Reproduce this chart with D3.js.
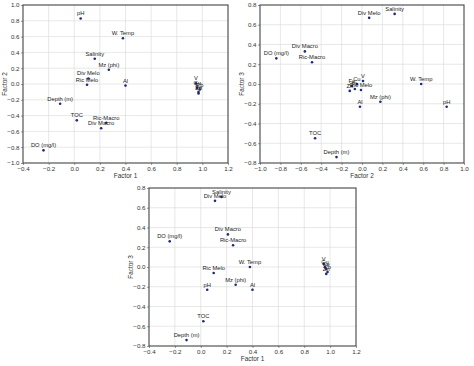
<!DOCTYPE html>
<html>
<head>
<meta charset="utf-8">
<script src="https://cdn.jsdelivr.net/npm/d3@7"></script>
<style>
  body { margin: 0; background: #fff; }
  svg { display: block; font-family: "Liberation Sans", Arial, sans-serif; }
  .grid line { stroke: #d9d9d9; stroke-width: 0.6; }
  .tick-label { font-size: 6.2px; fill: #333; }
  .axis-title { font-size: 6.4px; fill: #333; }
  .pt-label { font-size: 5.8px; fill: #222; }
</style>
</head>
<body>
<svg id="chart" width="474" height="366"></svg>
<script>
// variables and their loadings on the three factors
const variables = ['pH', 'W. Temp', 'Salinity', 'Mz (phi)', 'Div Melo', 'Ric Melo', 'Al', 'Depth (m)',
    'TOC', 'Ric-Macro', 'Div Macro', 'DO (mg/l)', 'V', 'Cu', 'Fe', 'Pb', 'Zn'];
const factor1 = [0.05, 0.38, 0.16, 0.27, 0.11, 0.10, 0.40, -0.11, 0.02, 0.25, 0.21, -0.24, 0.95, 0.96, 0.97, 0.98, 0.97];
const factor2 = [0.83, 0.58, 0.32, 0.18, 0.07, -0.01, -0.02, -0.25, -0.46, -0.49, -0.56, -0.84, 0.01, -0.05, -0.10, -0.07, -0.12];
const factor3 = [-0.23, 0.00, 0.71, -0.18, 0.67, -0.06, -0.23, -0.74, -0.55, 0.22, 0.33, 0.26, 0.03, 0.00, -0.02, -0.05, -0.07];

const ticksF1 = [-0.4, -0.2, 0.0, 0.2, 0.4, 0.6, 0.8, 1.0, 1.2];
const ticksF2wide = [-1.0, -0.8, -0.6, -0.4, -0.2, 0.0, 0.2, 0.4, 0.6, 0.8, 1.0];
const ticksF3 = [-0.8, -0.6, -0.4, -0.2, 0.0, 0.2, 0.4, 0.6, 0.8];

const panels = [
    { x: factor1, y: factor2, xTitle: 'Factor 1', yTitle: 'Factor 2', xTicks: ticksF1, yTicks: ticksF2wide,
      left: 23, right: 228, top: 5, bottom: 163 },
    { x: factor2, y: factor3, xTitle: 'Factor 2', yTitle: 'Factor 3', xTicks: ticksF2wide, yTicks: ticksF3,
      left: 260, right: 464, top: 5, bottom: 163 },
    { x: factor1, y: factor3, xTitle: 'Factor 1', yTitle: 'Factor 3', xTicks: ticksF1, yTicks: ticksF3,
      left: 149, right: 356, top: 188, bottom: 346 }
];

const svg = d3.select('#chart');
const fmt = d3.format('.1f');

panels.forEach(p => drawPanel(svg.append('g'), p));

function drawPanel(g, p) {
    const x = d3.scaleLinear()
        .domain(d3.extent(p.xTicks))
        .range([p.left, p.right]);
    const y = d3.scaleLinear()
        .domain(d3.extent(p.yTicks))
        .range([p.bottom, p.top]);

    const grid = g.append('g').attr('class', 'grid');
    grid.selectAll('line.v')
        .data(p.xTicks.slice(1, -1))
        .join('line')
        .attr('class', 'v')
        .attr('x1', d => x(d)).attr('x2', d => x(d))
        .attr('y1', p.top).attr('y2', p.bottom);
    grid.selectAll('line.h')
        .data(p.yTicks.slice(1, -1))
        .join('line')
        .attr('class', 'h')
        .attr('y1', d => y(d)).attr('y2', d => y(d))
        .attr('x1', p.left).attr('x2', p.right);

    // axes with small outward ticks
    g.append('g')
        .attr('transform', `translate(0,${p.bottom})`)
        .call(d3.axisBottom(x).tickValues(p.xTicks).tickFormat(fmt).tickSize(2).tickPadding(1.5))
        .call(a => a.select('.domain').remove())
        .call(a => a.selectAll('line').attr('stroke', '#555').attr('stroke-width', 0.6))
        .call(a => a.selectAll('text').attr('class', 'tick-label').attr('font-size', null).attr('font-family', null));

    g.append('g')
        .attr('transform', `translate(${p.left},0)`)
        .call(d3.axisLeft(y).tickValues(p.yTicks).tickFormat(fmt).tickSize(2).tickPadding(1.5))
        .call(a => a.select('.domain').remove())
        .call(a => a.selectAll('line').attr('stroke', '#555').attr('stroke-width', 0.6))
        .call(a => a.selectAll('text').attr('class', 'tick-label').attr('font-size', null).attr('font-family', null));

    g.append('rect')
        .attr('x', p.left).attr('y', p.top)
        .attr('width', p.right - p.left).attr('height', p.bottom - p.top)
        .attr('fill', 'none')
        .attr('stroke', '#444')
        .attr('stroke-width', 1.1);

    g.append('text')
        .attr('class', 'axis-title')
        .attr('x', (p.left + p.right) / 2)
        .attr('y', p.bottom + 15)
        .attr('text-anchor', 'middle')
        .text(p.xTitle);

    g.append('text')
        .attr('class', 'axis-title')
        .attr('transform', `translate(${p.left - 16},${(p.top + p.bottom) / 2}) rotate(-90)`)
        .attr('text-anchor', 'middle')
        .text(p.yTitle);

    const pts = variables.map((name, i) => ({ name, vx: p.x[i], vy: p.y[i] }));

    g.selectAll('circle.pt')
        .data(pts)
        .join('circle')
        .attr('class', 'pt')
        .attr('cx', d => x(d.vx))
        .attr('cy', d => y(d.vy))
        .attr('r', 1.3)
        .attr('fill', '#1f2a78');

    g.selectAll('text.pt-label')
        .data(pts)
        .join('text')
        .attr('class', 'pt-label')
        .attr('x', d => x(d.vx))
        .attr('y', d => y(d.vy) - 3)
        .attr('text-anchor', 'middle')
        .text(d => d.name);
}
</script>
</body>
</html>
